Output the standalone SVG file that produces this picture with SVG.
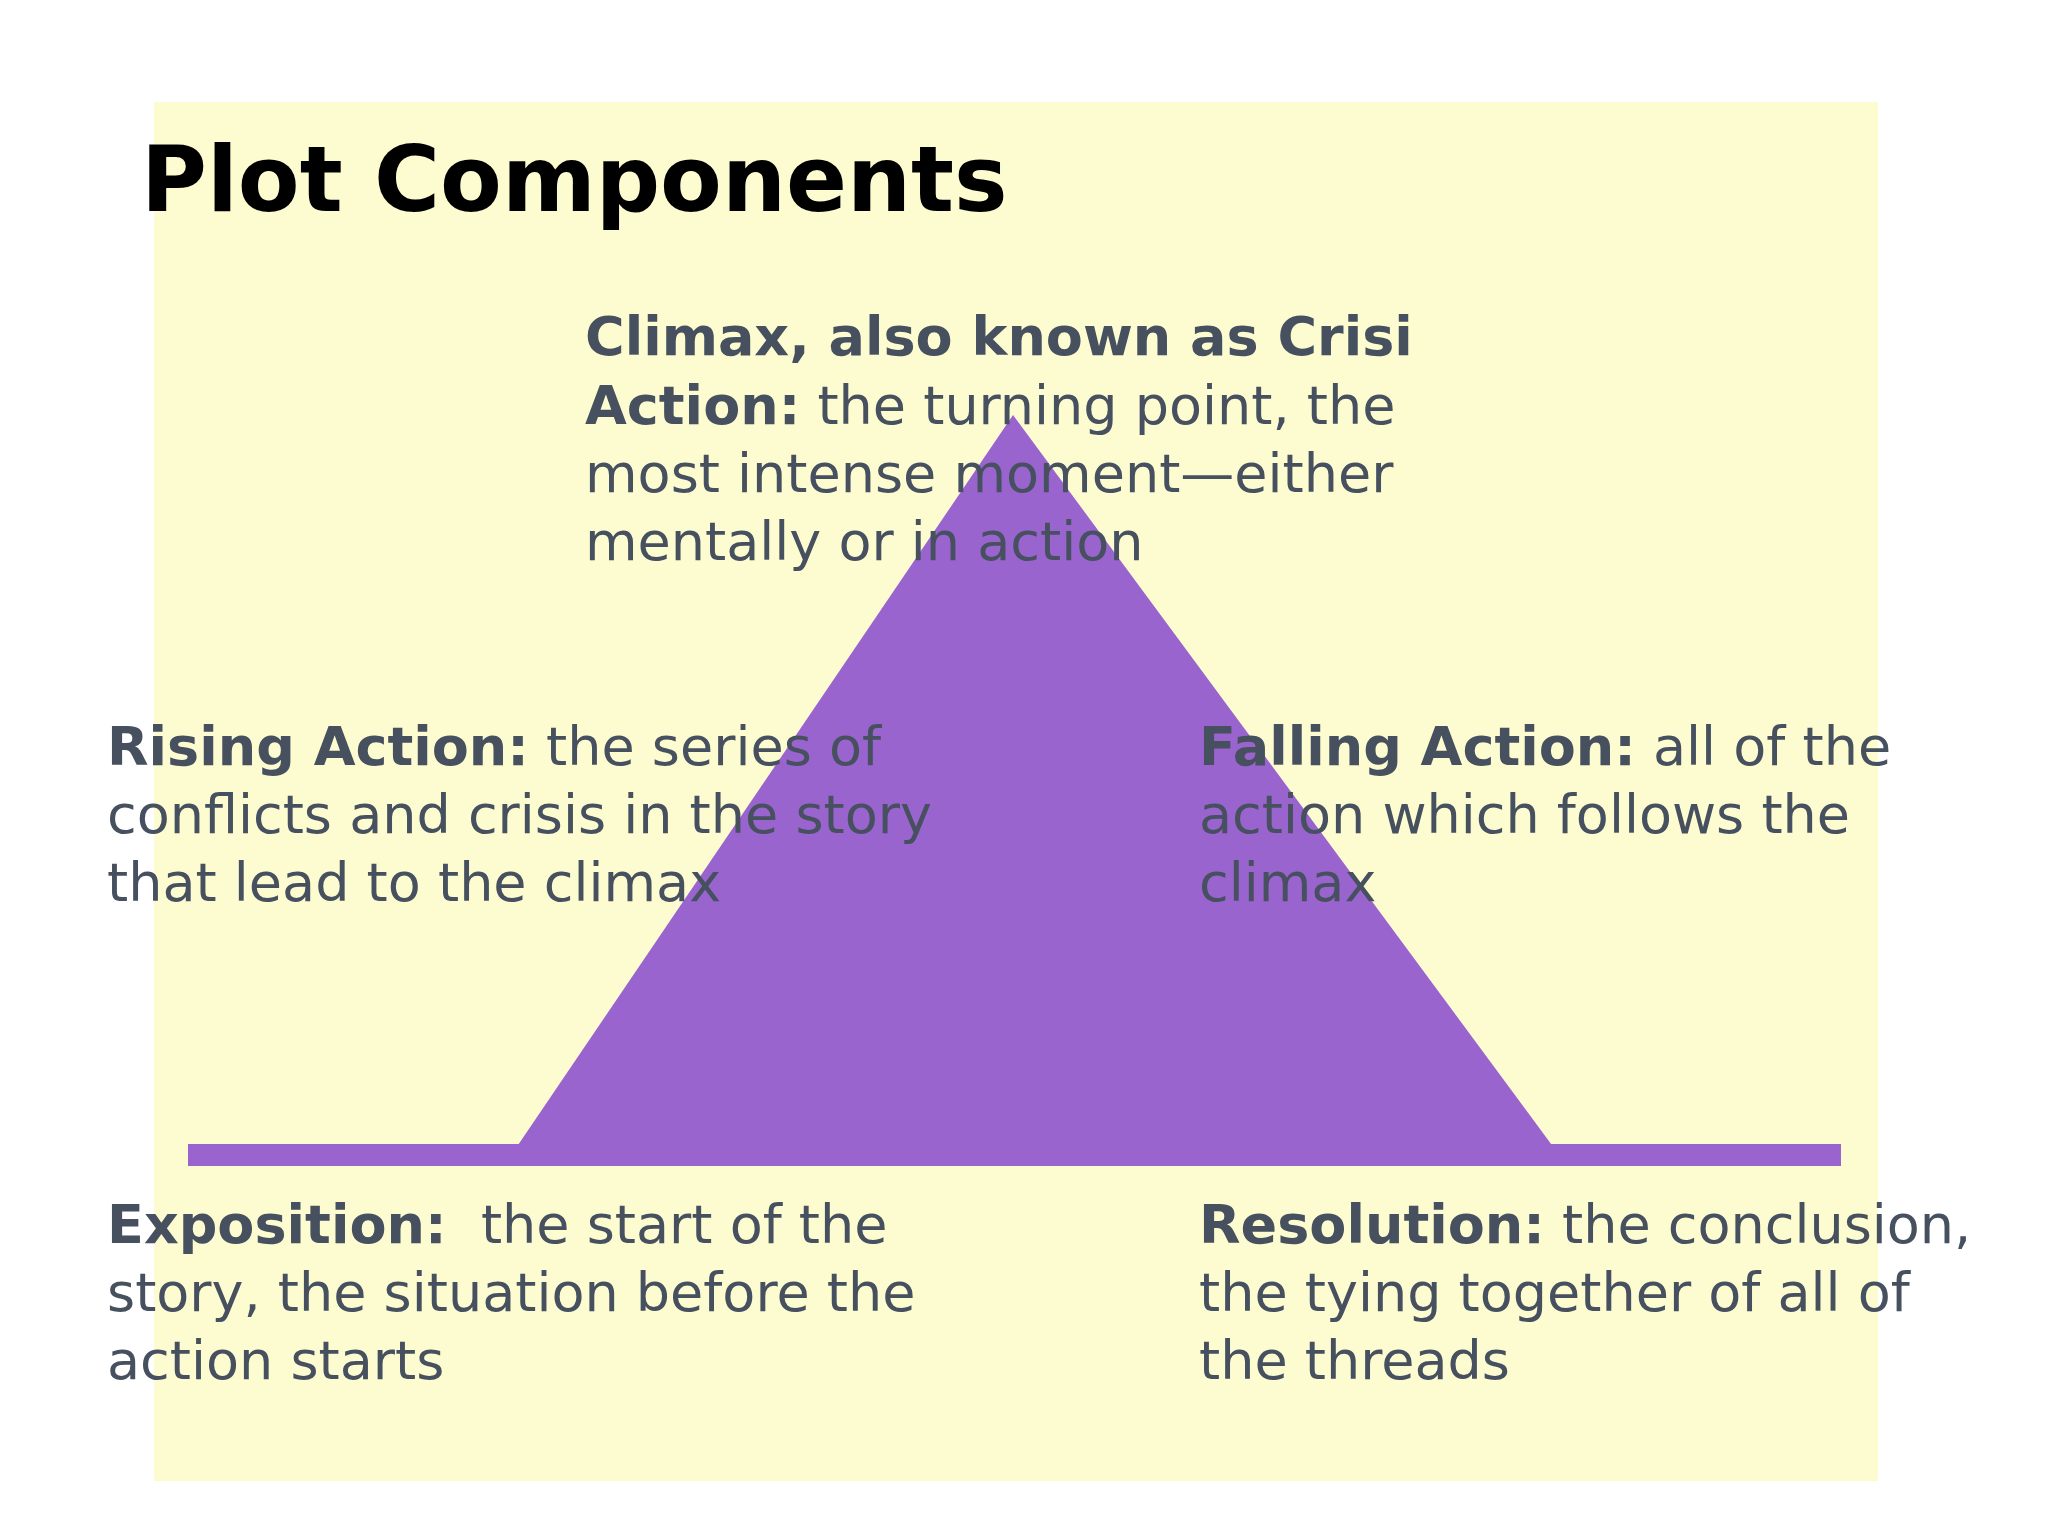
<svg xmlns="http://www.w3.org/2000/svg" width="2048" height="1536" viewBox="0 0 2048 1536">
<style>
.t{font-family:"DejaVu Sans","Verdana",sans-serif;font-size:54px;fill:#46505f}
.b{font-weight:bold}
</style>
<rect width="2048" height="1536" fill="#ffffff"/>
<rect x="154" y="102" width="1724" height="1379" fill="#fdfcd0"/>
<g id="shape">
<rect x="188" y="1144" width="1653" height="22" fill="#9a64cf"/>
<polygon points="1013,415 1554,1148 1554,1166 516,1166 516,1148" fill="#9a64cf"/>
</g>
<text x="141" y="211" font-family="DejaVu Sans, Verdana, sans-serif" font-weight="bold" font-size="90" fill="#000">Plot Components</text>
<g id="climax" class="t">
<text x="585" y="355" class="t b">Climax, also known as Crisi</text>
<text x="585" y="424" class="t"><tspan class="b">Action:</tspan> the turning point, the</text>
<text x="585" y="492" class="t">most intense moment—either</text>
<text x="585" y="560" class="t">mentally or in action</text>
</g>
<g id="rising">
<text x="107" y="765" class="t"><tspan class="b">Rising Action:</tspan> the series of</text>
<text x="107" y="833" class="t">conflicts and crisis in the story</text>
<text x="107" y="901" class="t">that lead to the climax</text>
</g>
<g id="falling">
<text x="1199" y="765" class="t"><tspan class="b">Falling Action:</tspan> all of the</text>
<text x="1199" y="833" class="t">action which follows the</text>
<text x="1199" y="901" class="t">climax</text>
</g>
<g id="exposition">
<text x="107" y="1243" class="t" xml:space="preserve"><tspan class="b">Exposition:</tspan>  the start of the</text>
<text x="107" y="1311" class="t">story, the situation before the</text>
<text x="107" y="1379" class="t">action starts</text>
</g>
<g id="resolution">
<text x="1199" y="1243" class="t"><tspan class="b">Resolution:</tspan> the conclusion,</text>
<text x="1199" y="1311" class="t">the tying together of all of</text>
<text x="1199" y="1379" class="t">the threads</text>
</g>
<g id="connectors"/>
</svg>
